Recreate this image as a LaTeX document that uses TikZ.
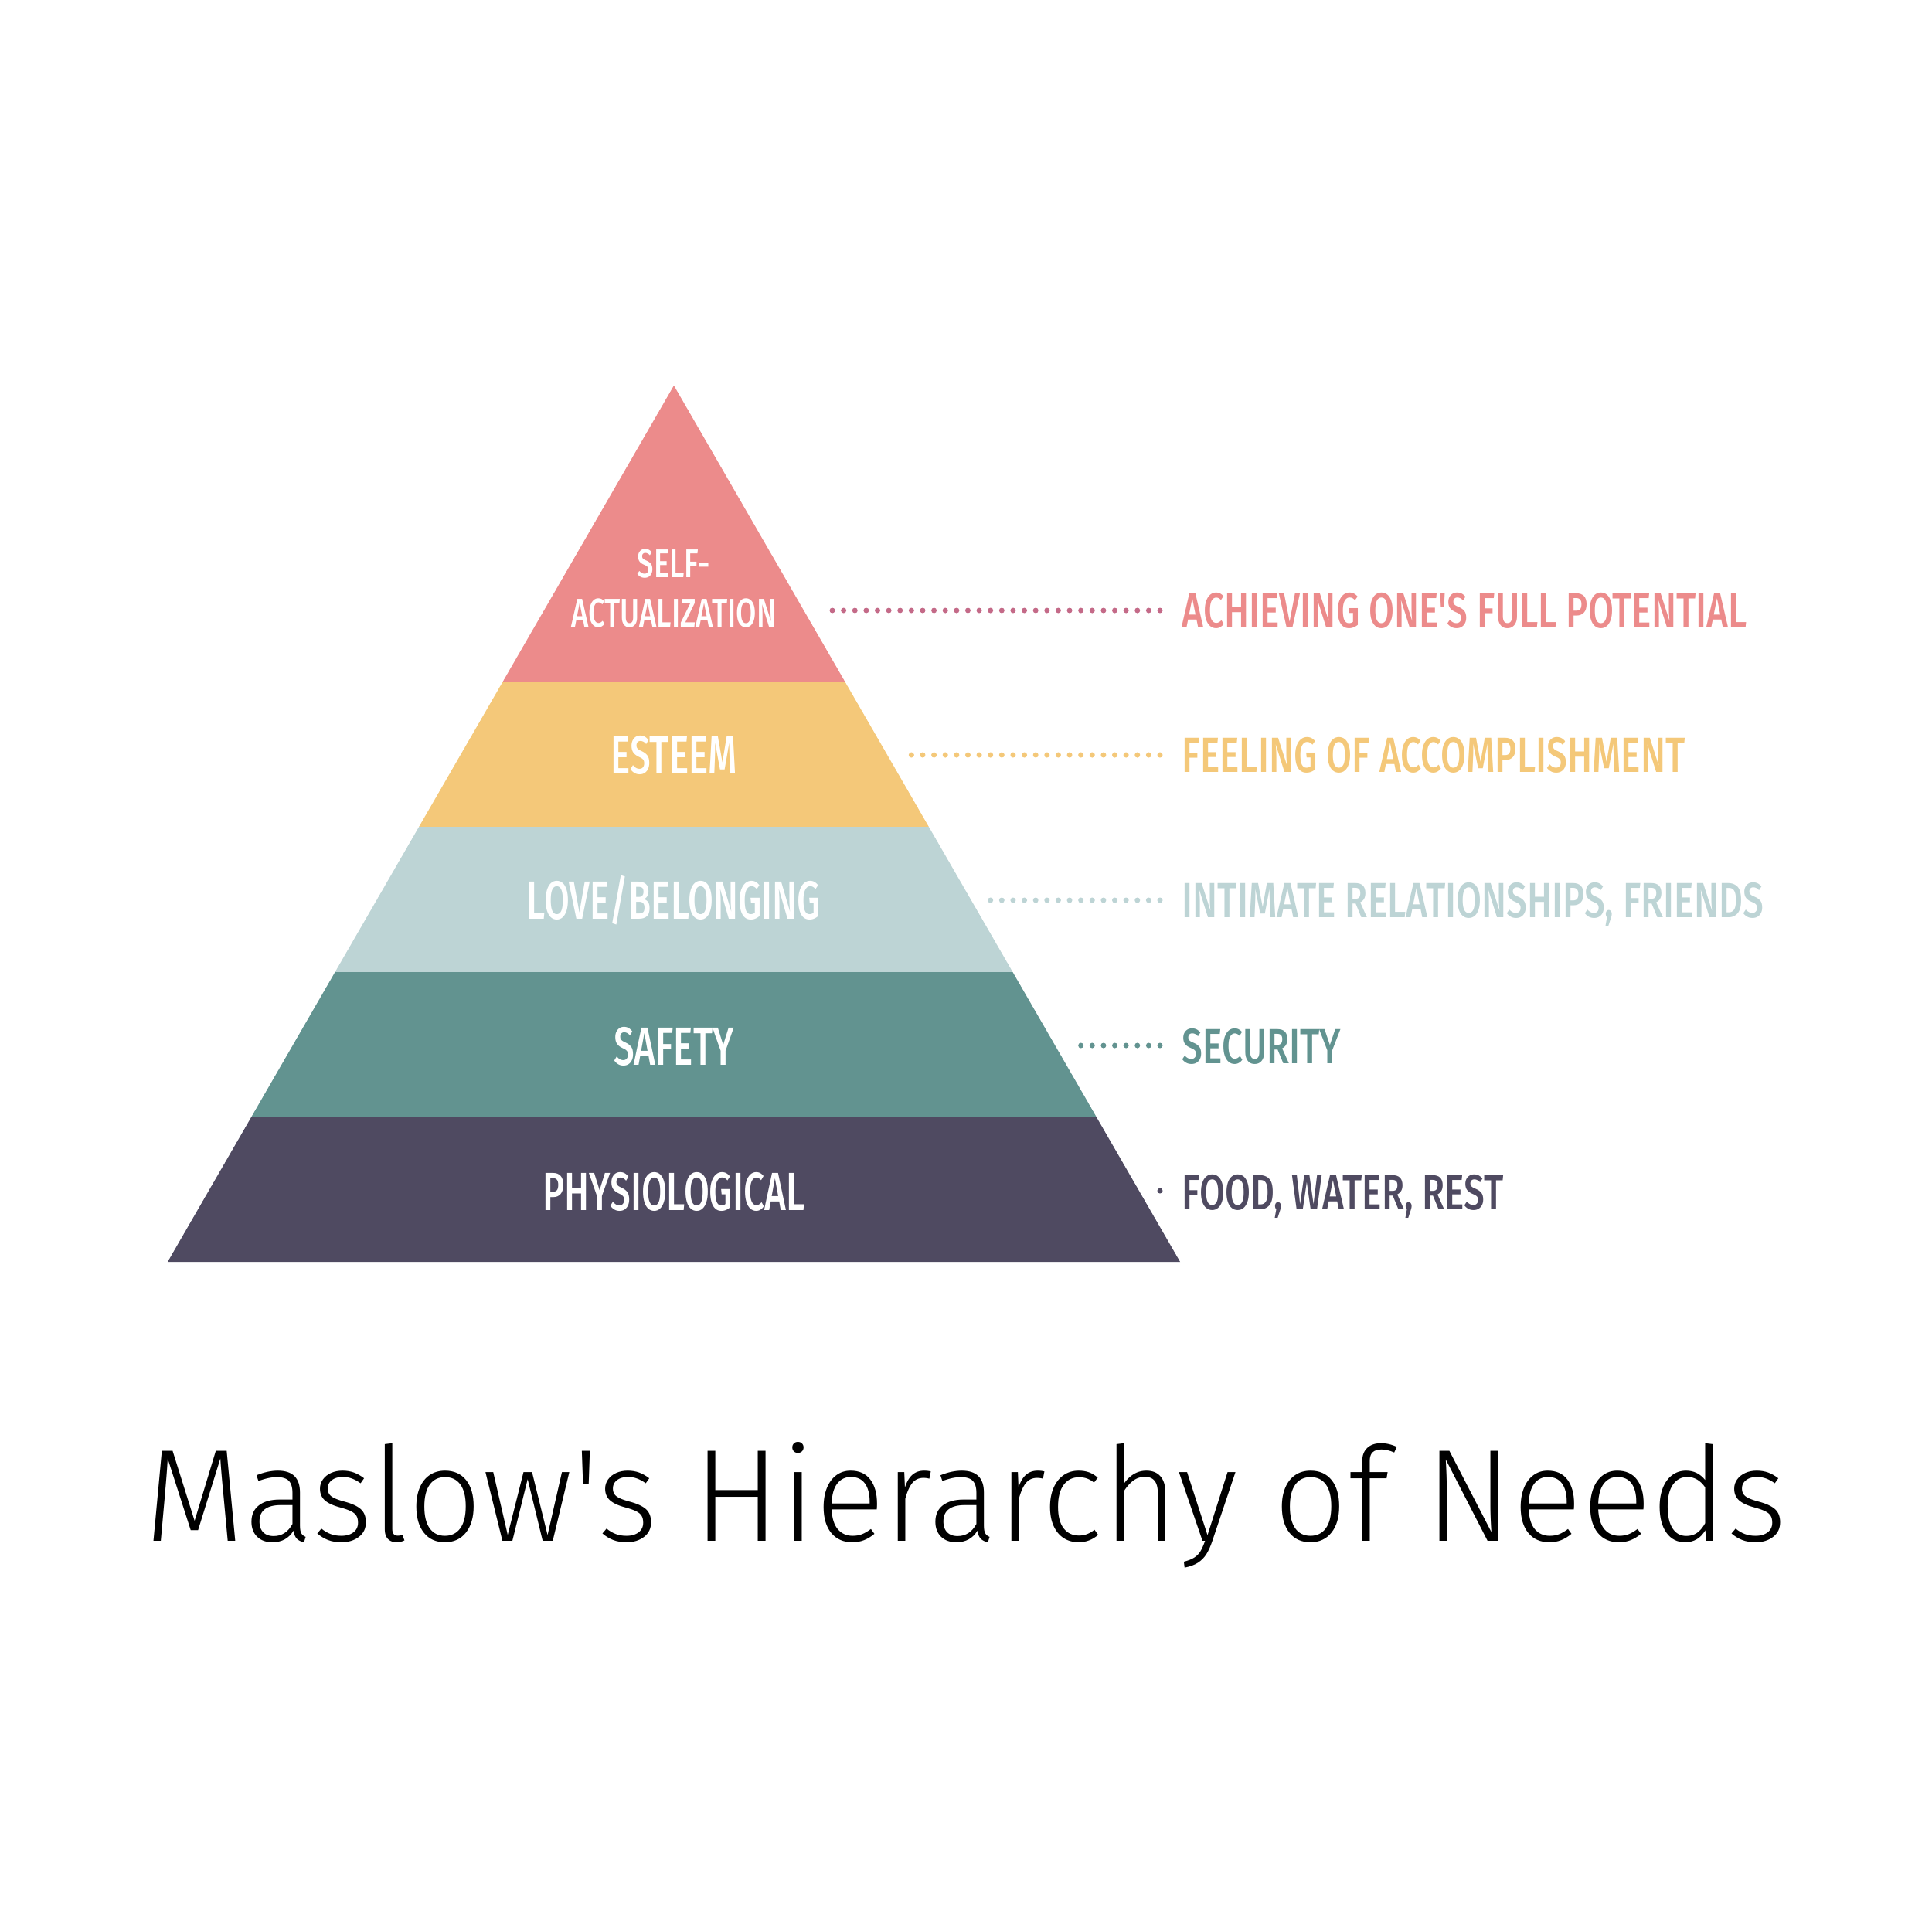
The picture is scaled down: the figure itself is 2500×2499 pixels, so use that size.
\documentclass[tikz,border=0pt]{standalone}
\usepackage{fontspec}
\newfontfamily\lvlfont[FakeStretch=0.685]{Fira Sans Medium}
\newfontfamily\lvlsmfont[FakeStretch=0.735]{Fira Sans Medium}
\newfontfamily\descfont[FakeStretch=0.747]{Fira Sans Medium}
\newfontfamily\titlefont[FakeStretch=0.985]{Fira Sans Light}
\definecolor{cpink}{HTML}{EC8B8B}
\definecolor{cpinkdot}{HTML}{C46A88}
\definecolor{cyellow}{HTML}{F4C879}
\definecolor{clight}{HTML}{BDD4D5}
\definecolor{cteal}{HTML}{629390}
\definecolor{cdark}{HTML}{4F4A61}
\tikzset{
  lvl/.style={text=white, font=\lvlfont\fontsize{17.4}{17.4}\selectfont, anchor=base, inner sep=0pt},
  lvlsmall/.style={text=white, font=\lvlsmfont\fontsize{13}{13}\selectfont, anchor=base, inner sep=0pt},
  desc/.style={font=\descfont\fontsize{16}{16}\selectfont, anchor=base west, inner sep=0pt},
  leader/.style={line width=1.75pt, line cap=round, dash pattern=on 0pt off 3.655pt},
}
\begin{document}
\begin{tikzpicture}[x=0.25pt,y=-0.25pt]
\useasboundingbox (0,0) rectangle (2500,2499);
\fill[white] (0,0) rectangle (2500,2499);
% pyramid geometry
\def\sl{0.5776}
\coordinate (apex) at (872,499);
\fill[cpink] (apex) -- ({872+(882-499)*\sl},882) -- ({872-(882-499)*\sl},882) -- cycle;
\fill[cyellow] ({872-(882-499)*\sl},882) -- ({872+(882-499)*\sl},882) -- ({872+(1070-499)*\sl},1070) -- ({872-(1070-499)*\sl},1070) -- cycle;
\fill[clight] ({872-(1070-499)*\sl},1070) -- ({872+(1070-499)*\sl},1070) -- ({872+(1258-499)*\sl},1258) -- ({872-(1258-499)*\sl},1258) -- cycle;
\fill[cteal] ({872-(1258-499)*\sl},1258) -- ({872+(1258-499)*\sl},1258) -- ({872+(1446-499)*\sl},1446) -- ({872-(1446-499)*\sl},1446) -- cycle;
\fill[cdark] ({872-(1446-499)*\sl},1446) -- ({872+(1446-499)*\sl},1446) -- ({872+(1633-499)*\sl},1633) -- ({872-(1633-499)*\sl},1633) -- cycle;
% level labels
\node[lvlsmall] (l1a) at (872,747) {SELF-};
\node[lvlsmall] (l1b) at (872,811) {ACTUALIZATION};
\node[lvl] (l2) at (872,1001) {ESTEEM};
\node[lvl] (l3) at (872,1189) {LOVE/BELONGING};
\node[lvl] (l4) at (872,1378) {SAFETY};
\node[lvl] (l5) at (872,1566) {PHYSIOLOGICAL};
% descriptions
\node[desc, text=cpink] (d1) at (1529,812) {ACHIEVING ONE'S FULL POTENTIAL};
\node[desc, text=cyellow] (d2) at (1529,999) {FEELING OF ACCOMPLISHMENT};
\node[desc, text=clight] (d3) at (1529,1187) {INTIMATE RELATIONSHIPS, FRIENDS};
\node[desc, text=cteal] (d4) at (1529,1376) {SECURITY};
\node[desc, text=cdark] (d5) at (1529,1565) {FOOD, WATER, REST};
% leaders
\coordinate (s1) at ({1501-29*14.62},790);
\coordinate (e1) at (1501,790);
\coordinate (s2) at ({1501-22*14.62},977);
\coordinate (e2) at (1501,977);
\coordinate (s3) at ({1501-15*14.62},1165);
\coordinate (e3) at (1501,1165);
\coordinate (s4) at ({1501-7*14.62},1353);
\coordinate (e4) at (1501,1353);
\coordinate (s5) at (1501,1541);
\draw[leader, cpinkdot] (s1) -- (e1);
\draw[leader, cyellow] (s2) -- (e2);
\draw[leader, clight] (s3) -- (e3);
\draw[leader, cteal] (s4) -- (e4);
\fill[cdark] (s5) circle (3.5);
% title
\node[font=\titlefont\fontsize{42.5}{42.5}\selectfont, anchor=base, inner sep=0pt, text=black] (title) at (1250,1994) {Maslow's Hierarchy of Needs};
\end{tikzpicture}
\end{document}
